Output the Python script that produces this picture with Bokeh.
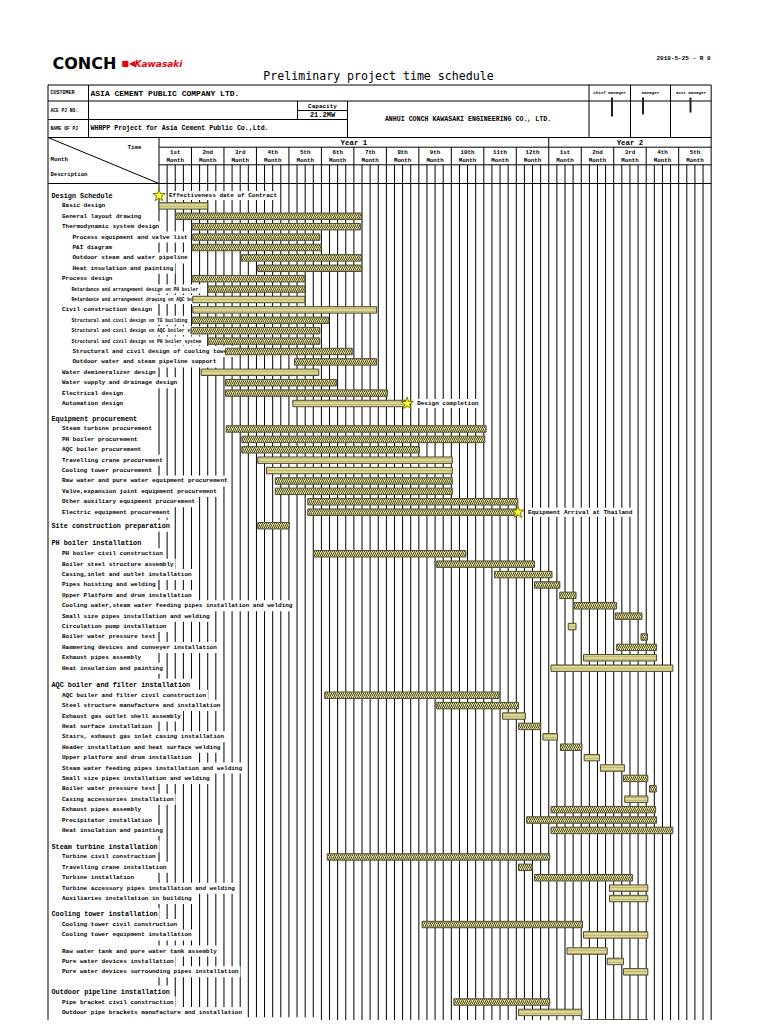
from bokeh.plotting import figure
from bokeh.models import ColumnDataSource, Range1d
from bokeh.core.properties import value
from bokeh.embed import file_html
from bokeh.resources import INLINE

# ---------------- data ----------------
TITLE = "Preliminary project time schedule"
DATE_TEXT = "2010-5-25 - R 0"
CUSTOMER_NAME = "ASIA CEMENT PUBLIC COMPANY LTD."
PROJECT_NAME = "WHRPP Project for Asia Cement Public Co.,Ltd."
CAPACITY = "21.2MW"
CONTRACTOR = "ANHUI CONCH KAWASAKI ENGINEERING CO., LTD."
SIGN_ROLES = ["chief manager", "manager", "asst manager"]

YEARS = ["Year 1", "Year 2"]
YEAR_MONTHS = [12, 5]
MONTH_NAMES = ["1st", "2nd", "3rd", "4th", "5th", "6th", "7th", "8th", "9th", "10th",
               "11th", "12th", "1st", "2nd", "3rd", "4th", "5th"]

DESIGN_TASKS = ["Basic design", "General layout drawing", "Thermodynamic system design",
                "Process equipment and valve list", "P&I diagram",
                "Outdoor steam and water pipeline", "Heat insulation and painting",
                "Process design", "Retardance and arrangement design on PH boiler",
                "Retardance and arrangement drawing on AQC boiler",
                "Civil construction design", "Structural and civil design on TG building",
                "Structural and civil design on AQC boiler system",
                "Structural and civil design on PH boiler system",
                "Structural and civil design of cooling tower",
                "Outdoor water and steam pipeline support", "Water demineralizer design",
                "Water supply and drainage design", "Electrical design", "Automation design"]
DESIGN_START = [0.00, 0.51, 1.02, 1.04, 1.02, 2.53, 3.04, 1.02, 1.51, 1.04,
                1.04, 1.02, 0.99, 1.51, 2.05, 4.17, 1.30, 2.05, 2.05, 4.12]
DESIGN_END = [1.50, 6.23, 6.20, 4.95, 4.99, 6.23, 6.23, 4.49, 4.49, 4.49,
              6.70, 5.23, 4.95, 4.95, 5.95, 6.70, 4.92, 5.46, 7.03, 7.64]

PROC_TASKS = ["Steam turbine procurement", "PH boiler procurement", "AQC boiler procurement",
              "Travelling crane procurement", "Cooling tower procurement",
              "Raw water and pure water equipment procurement",
              "Valve,expansion joint equipment procurement",
              "Other auxiliary equipment procurement", "Electric equipment procurement"]
PROC_START = [2.07, 2.55, 2.55, 3.04, 3.31, 3.58, 3.58, 4.58, 4.58]
PROC_END = [10.07, 10.03, 8.02, 9.03, 9.03, 9.03, 9.03, 11.05, 11.05]

SITE_START = [3.04]
SITE_END = [4.01]

PH_TASKS = ["PH boiler civil construction", "Boiler steel structure assembly",
            "Casing,inlet and outlet installation", "Pipes hoisting and welding",
            "Upper Platform and drum installation",
            "Cooling water,steam water feeding pipes installation and welding",
            "Small size pipes installation and welding", "Circulation pump installation",
            "Boiler water pressure test", "Hammering devices and conveyer installation",
            "Exhaust pipes assembly", "Heat insulation and painting"]
PH_START = [4.76, 8.55, 10.33, 11.56, 12.34, 12.77, 14.05, 12.60, 14.84, 14.09, 13.07, 12.07]
PH_END = [9.45, 11.56, 12.10, 12.34, 12.84, 14.09, 14.87, 12.84, 15.04, 15.32, 15.32, 15.82]

AQC_TASKS = ["AQC boiler and filter civil construction",
             "Steel structure manufacture and installation",
             "Exhaust gas outlet shell assembly", "Heat surface installation",
             "Stairs, exhaust gas inlet casing installation",
             "Header installation and heat surface welding",
             "Upper platform and drum installation",
             "Steam water feeding pipes installation and welding",
             "Small size pipes installation and welding", "Boiler water pressure test",
             "Casing accessories installation", "Exhaust pipes assembly",
             "Precipitator installation", "Heat insulation and painting"]
AQC_START = [5.10, 8.55, 10.58, 11.07, 11.82, 12.36, 13.09, 13.59, 14.30, 15.10,
             14.34, 12.07, 11.32, 12.07]
AQC_END = [10.47, 11.07, 11.28, 11.75, 12.27, 13.02, 13.56, 14.33, 15.05, 15.31,
           15.05, 15.29, 15.32, 15.82]

TURBINE_TASKS = ["Turbine civil construction", "Travelling crane installation",
                 "Turbine installation", "Turbine accessory pipes installation and welding",
                 "Auxiliaries installation in building"]
TURBINE_START = [5.18, 11.07, 11.56, 13.87, 13.87]
TURBINE_END = [12.03, 11.49, 14.58, 15.05, 15.05]

COOLING_TASKS = ["Cooling tower civil construction", "Cooling tower equipment installation"]
COOLING_START = [8.10, 13.07]
COOLING_END = [13.04, 15.05]

WATER_TASKS = ["Raw water tank and pure water tank assembly",
               "Pure water devices installation",
               "Pure water devices surrounding pipes installation"]
WATER_START = [12.56, 13.80, 14.30]
WATER_END = [13.80, 14.30, 15.05]

PIPE_TASKS = ["Pipe bracket civil construction",
              "Outdoor pipe brackets manufacture and installation",
              "Steam water devices and other accessory pipes installation and welding"]
PIPE_START = [9.08, 11.07, 13.07]
PIPE_END = [12.03, 13.02, 15.05]

MILESTONE_TEXT = ["Effectiveness date of Contract", "Design completion",
                  "Equipment Arrival at Thailand"]
MILESTONE_ROW = ["Design Schedule", "Automation design", "Electric equipment procurement"]
MILESTONE_MONTH = [0.0, 7.64, 11.05]

# ---------------- layout / style ----------------
DESIGN_LEVEL = [1, 1, 1, 2, 2, 2, 2, 1, 3, 3, 1, 3, 3, 3, 2, 2, 1, 1, 1, 1]
DESIGN_STYLE = "pddddddddppdddddpddp"
PROC_STYLE = "dddppdddd"
PH_STYLE = "dddddddpddpp"
AQC_STYLE = "ddpdpdppddpddd"
TURBINE_STYLE = "dddpp"
COOLING_STYLE = "dp"
WATER_STYLE = "ppp"
PIPE_STYLE = "dpp"

GROUPS = [
    ("Design Schedule", None, DESIGN_TASKS, DESIGN_START, DESIGN_END, DESIGN_LEVEL, DESIGN_STYLE, 0.0),
    ("Equipment procurement", None, PROC_TASKS, PROC_START, PROC_END, [1] * 9, PROC_STYLE, 0.45),
    ("Site construction preparation", (SITE_START[0], SITE_END[0]), [], [], [], [], "", 0.3),
    ("PH boiler installation", None, PH_TASKS, PH_START, PH_END, [1] * 12, PH_STYLE, 0.7),
    ("AQC boiler and filter installation", None, AQC_TASKS, AQC_START, AQC_END, [1] * 14, AQC_STYLE, 0.6),
    ("Steam turbine installation", None, TURBINE_TASKS, TURBINE_START, TURBINE_END, [1] * 5, TURBINE_STYLE, 0.55),
    ("Cooling tower installation", None, COOLING_TASKS, COOLING_START, COOLING_END, [1] * 2, COOLING_STYLE, 0.5),
    (None, None, WATER_TASKS, WATER_START, WATER_END, [1] * 3, WATER_STYLE, 0.55),
    ("Outdoor pipeline installation", None, PIPE_TASKS, PIPE_START, PIPE_END, [1] * 3, PIPE_STYLE, 0.9),
]

PX_LEFT = 158.5      # reference pixel of month 0
MONTH_PX = 32.48     # pixels per month
ROW_TOP = 195.0      # reference pixel of first row
ROW_PX = 10.4        # pixels per row
W, H = 760, 1020
ORIGIN = 0           # page pixel where the canvas starts


def X(px):
    return (px - PX_LEFT) / MONTH_PX


def Y(py):
    return (py - ROW_TOP) / ROW_PX


p = figure(width=W, height=H, x_range=Range1d(X(ORIGIN), X(ORIGIN + W)),
           y_range=Range1d(Y(ORIGIN + H), Y(ORIGIN)), output_backend="svg",
           toolbar_location=None, x_axis_type=None, y_axis_type=None, min_border=0)
p.outline_line_color = None
p.background_fill_color = "white"
p.border_fill_color = "white"

# ---- build rows ----
INDENT = {0: 49.0, 1: 59.5, 2: 70.0, 3: 69.0}
FSIZE = {0: "6.8px", 1: "6px", 2: "6px", 3: "4.6px"}
lab = dict(x=[], y=[], text=[], fs=[])
bar = {"d": dict(y=[], left=[], right=[]), "p": dict(y=[], left=[], right=[])}
slot_of = {}
cur = -1.0
for header, hbar, tasks, starts, ends, levels, styles, gap in GROUPS:
    pending = gap
    if header:
        cur += 1 + pending
        pending = 0
        slot_of[header] = cur
        lab["x"].append(X(INDENT[0])); lab["y"].append(cur)
        lab["text"].append(header); lab["fs"].append(FSIZE[0])
        if hbar:
            bar["d"]["y"].append(cur); bar["d"]["left"].append(hbar[0]); bar["d"]["right"].append(hbar[1])
    for t, s, e, lv, st in zip(tasks, starts, ends, levels, styles):
        cur += 1 + pending
        pending = 0
        slot_of[t] = cur
        lab["x"].append(X(INDENT[lv])); lab["y"].append(cur)
        lab["text"].append(t); lab["fs"].append(FSIZE[lv])
        bar[st]["y"].append(cur); bar[st]["left"].append(s); bar[st]["right"].append(e)

BOTTOM = 1040

# ---- vertical week lines ----
n_weeks = sum(YEAR_MONTHS) * 4
vx, vy0, vy1 = [], [], []
for k in range(n_weeks + 1):
    if k == 0 or k == YEAR_MONTHS[0] * 4:
        top = 137
    elif k == n_weeks:
        top = 84.5
    elif k % 4 == 0:
        top = 146.7
    else:
        top = 164.3
    vx.append(k / 4); vy0.append(Y(top)); vy1.append(Y(BOTTOM))
p.segment(x0=vx, y0=vy0, x1=vx, y1=vy1, line_color="black", line_width=1)

# ---- header table lines ----
x_end = X(PX_LEFT + sum(YEAR_MONTHS) * MONTH_PX)
hl = [(47.5, 84.5, None), (47.5, 100.5, None), (47.5, 119, 347), (47.5, 137, None),
      (PX_LEFT, 146.7, None), (PX_LEFT, 164.3, None), (47.5, 183, None), (297, 110, 347)]
p.segment(x0=[X(a) for a, _, _ in hl], y0=[Y(b) for _, b, _ in hl],
          x1=[x_end if c is None else X(c) for _, _, c in hl], y1=[Y(b) for _, b, _ in hl],
          line_color="black", line_width=1)
vl = [(88, 84.5, 137), (297, 100.5, 119), (347, 100.5, 137), (588.5, 84.5, 137),
      (630, 84.5, 137), (670, 84.5, 137)]
p.segment(x0=[X(a) for a, _, _ in vl], y0=[Y(b) for _, b, _ in vl],
          x1=[X(a) for a, _, _ in vl], y1=[Y(c) for _, _, c in vl],
          line_color="black", line_width=1)
p.segment(x0=[X(47.5)], y0=[Y(137)], x1=[X(PX_LEFT)], y1=[Y(183)], line_color="black", line_width=1)
# signatures
sg = [(611.5, 97, 116), (642.5, 97, 114), (690, 97, 112)]
p.segment(x0=[X(a) for a, _, _ in sg], y0=[Y(b) for _, b, _ in sg],
          x1=[X(a) for a, _, _ in sg], y1=[Y(c) for _, _, c in sg],
          line_color="#222222", line_width=2)

MONO = value("Liberation Mono")


def txt(text, px, py, size, align="left", font=MONO, style="bold", color="black", **kw):
    p.text(x=[X(px)], y=[Y(py)], text=[text], text_font=font, text_font_size=size,
           text_font_style=style, text_align=align, text_baseline="middle",
           text_color=color, **kw)


# ---- title block ----
txt("CONCH", 52, 63, "16px", font=value("DejaVu Sans"))
txt("\u25a0\u25c0", 121, 63, "8px", font=value("DejaVu Sans"), color="#e60012")
txt("Kawasaki", 134, 63, "9px", font=value("DejaVu Sans"), style="bold italic", color="#e60012")
txt(DATE_TEXT, 710, 58, "6px", align="right")
txt(TITLE, 378, 75, "11.6px", align="center", font=value("DejaVu Sans Mono"), style="normal")
txt("CUSTOMER", 50, 92.5, "5px")
txt(CUSTOMER_NAME, 90, 92.5, "8px")
for role, cx in zip(SIGN_ROLES, [609, 650, 690.5]):
    txt(role, cx, 92.5, "4.2px", align="center")
txt("ACE PJ NO.", 50, 110, "4.6px")
txt("Capacity", 322, 105.5, "6px", align="center")
txt(CAPACITY, 322, 114.5, "7px", align="center")
txt(CONTRACTOR, 467.5, 119, "6.6px", align="center")
txt("NAME OF PJ", 50, 128, "4.6px")
txt(PROJECT_NAME, 90, 128, "6.6px")

# ---- time header ----
m0 = 0
for yname, n in zip(YEARS, YEAR_MONTHS):
    p.text(x=[m0 + n / 2], y=[Y(142)], text=[yname], text_font=MONO, text_font_size="7.4px",
           text_font_style="bold", text_align="center", text_baseline="middle")
    m0 += n
mc = [i + 0.5 for i in range(len(MONTH_NAMES))]
p.text(x=mc, y=[Y(152)] * len(mc), text=MONTH_NAMES, text_font=MONO, text_font_size="5.8px",
       text_font_style="bold", text_align="center", text_baseline="middle")
p.text(x=mc, y=[Y(160)] * len(mc), text=["Month"] * len(mc), text_font=MONO,
       text_font_size="5.8px", text_font_style="bold", text_align="center", text_baseline="middle")
txt("Time", 134, 147, "5.8px", align="center")
txt("Month", 50, 159, "5.8px")
txt("Description", 50, 173.5, "5.6px")

# ---- task labels (white background hides grid lines) ----
p.text(x="x", y="y", text="text", source=ColumnDataSource(lab), text_font=MONO,
       text_font_size="fs", text_font_style="bold", text_align="left", text_baseline="middle",
       background_fill_color="white", padding=2)

# left border
p.segment(x0=[X(47.5)], y0=[Y(84.5)], x1=[X(47.5)], y1=[Y(BOTTOM)], line_color="black", line_width=1)

# ---- bars ----
BAR_FILL = "#e4de8e"
p.hbar(y="y", left="left", right="right", height=0.62, source=ColumnDataSource(bar["d"]),
       fill_color=BAR_FILL, line_color="#4d4d33", line_width=1,
       hatch_pattern="/", hatch_color="#4d4d33", hatch_scale=4, hatch_weight=1)
p.hbar(y="y", left="left", right="right", height=0.62, source=ColumnDataSource(bar["p"]),
       fill_color="#dcd690", line_color="#4d4d33", line_width=1,
       hatch_pattern="-", hatch_color="#a9a366", hatch_scale=3, hatch_weight=0.6)

# ---- milestones ----
ms_y = [slot_of[r] for r in MILESTONE_ROW]
p.text(x=MILESTONE_MONTH, y=ms_y, text=MILESTONE_TEXT, x_offset=9, text_font=MONO,
       text_font_size="6px", text_font_style="bold", text_align="left", text_baseline="middle",
       background_fill_color="white", padding=1)
p.scatter(x=MILESTONE_MONTH, y=ms_y, marker="star", size=13, fill_color="#ffff33",
          line_color="#7a7a00", line_width=1)

open("out.html", "w").write(file_html(p, INLINE))
